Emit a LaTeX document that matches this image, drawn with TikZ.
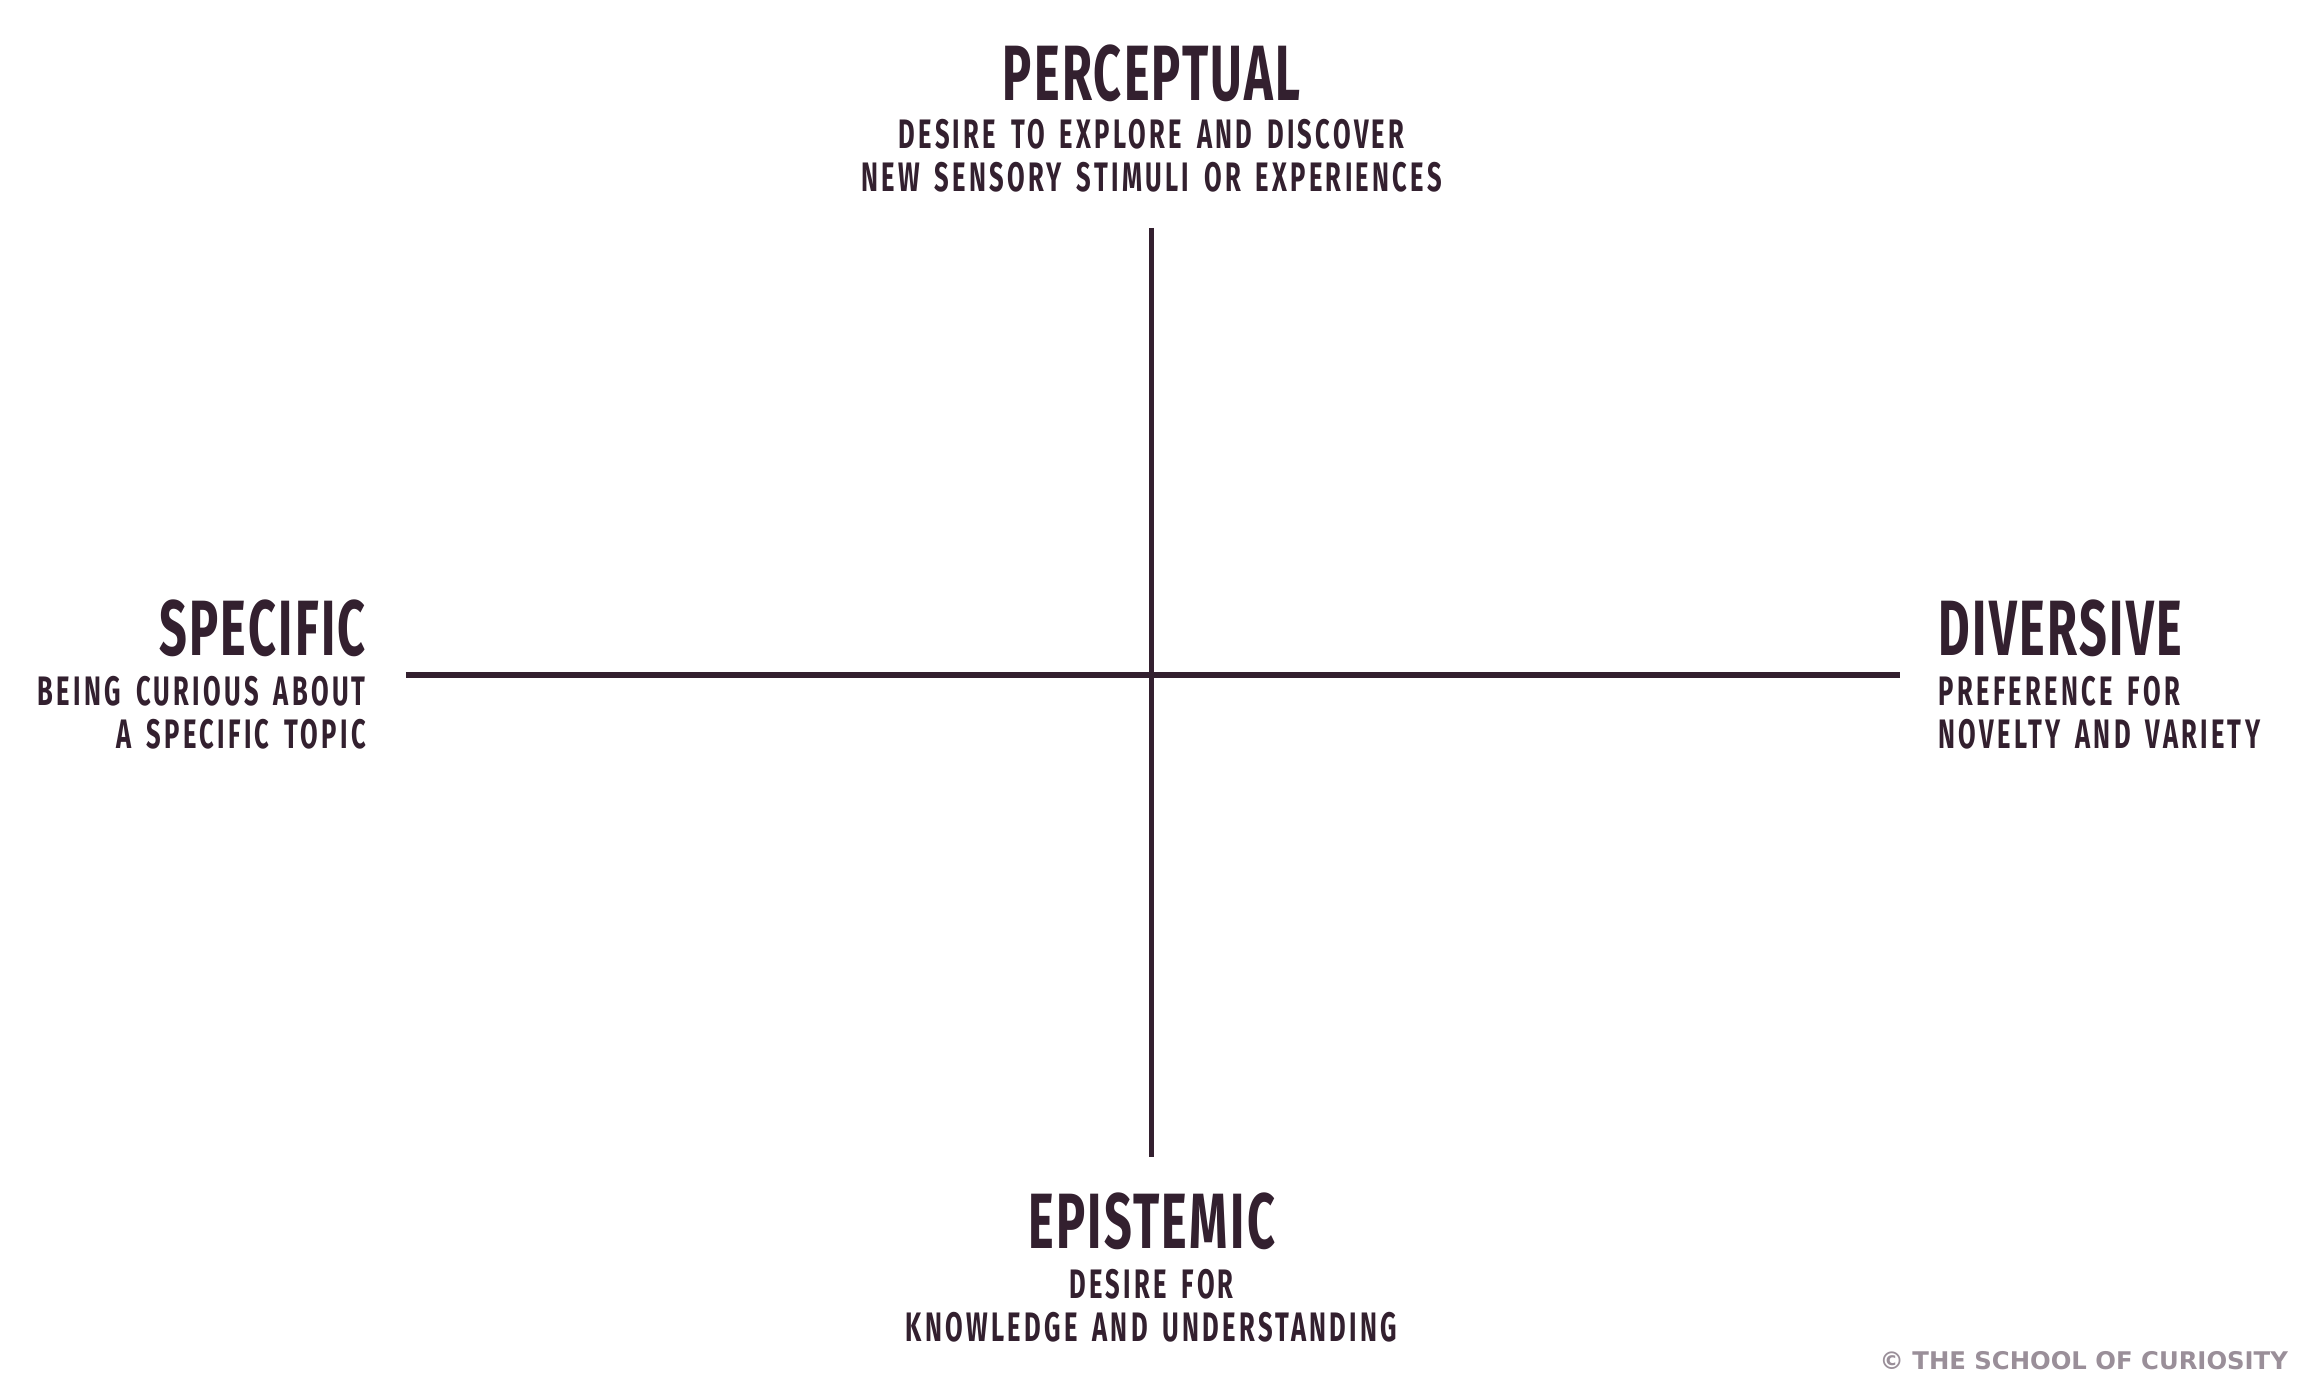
\documentclass[tikz,border=0pt]{standalone}
\usepackage{fontspec}
\newfontfamily\titlefont[FakeStretch=0.62,LetterSpace=3]{Fira Sans}
\newfontfamily\subfont[FakeStretch=0.62,LetterSpace=8,WordSpace=1.6]{Fira Sans}
\newfontfamily\markfont{DejaVu Sans}
\definecolor{ink}{HTML}{33202F}
\definecolor{mark}{HTML}{9A8F99}
\tikzset{
  axis/.style={draw=ink, line width=2.6pt},
  title/.style={text=ink, inner sep=0pt, font=\titlefont\bfseries\fontsize{40}{40}\selectfont},
  sub/.style={text=ink, inner sep=0pt, font=\subfont\bfseries\fontsize{21}{21}\selectfont},
  copy/.style={text=mark, inner sep=0pt, font=\markfont\bfseries\fontsize{12.4}{12.4}\selectfont}
}
\begin{document}
\begin{tikzpicture}[x=0.75pt,y=-0.75pt]
\useasboundingbox (0,0) rectangle (1568,945);
\fill[white] (0,0) rectangle (1568,945);
% axes
\coordinate (vt) at (783,155);
\coordinate (vb) at (783,787);
\coordinate (hl) at (276,459);
\coordinate (hr) at (1292,459);
\draw[axis] (vt) -- (vb);
\draw[axis] (hl) -- (hr);
% top
\node[title, anchor=base] (pt) at (783,68) {PERCEPTUAL};
\node[sub, anchor=base] (p1) at (783,101) {DESIRE TO EXPLORE AND DISCOVER};
\node[sub, anchor=base] (p2) at (783,130) {NEW SENSORY STIMULI OR EXPERIENCES};
% left
\node[title, anchor=base east] (st) at (249,446) {SPECIFIC};
\node[sub, anchor=base east] (s1) at (249,480) {BEING CURIOUS ABOUT};
\node[sub, anchor=base east] (s2) at (249,509) {A SPECIFIC TOPIC};
% right
\node[title, anchor=base west] (dt) at (1318,446) {DIVERSIVE};
\node[sub, anchor=base west] (d1) at (1318,480) {PREFERENCE FOR};
\node[sub, anchor=base west] (d2) at (1318,509) {NOVELTY AND VARIETY};
% bottom
\node[title, anchor=base] (et) at (783,849) {EPISTEMIC};
\node[sub, anchor=base] (e1) at (783,883) {DESIRE FOR};
\node[sub, anchor=base] (e2) at (783,912) {KNOWLEDGE AND UNDERSTANDING};
% copyright
\node[copy, anchor=base east] (cr) at (1556,931) {© THE SCHOOL OF CURIOSITY};
\end{tikzpicture}
\end{document}
